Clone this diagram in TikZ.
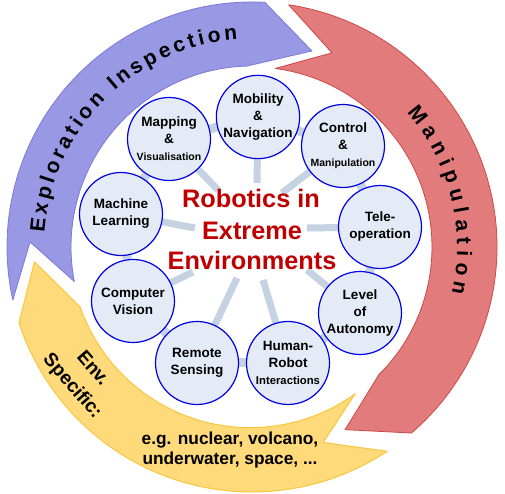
\documentclass[tikz,border=0pt]{standalone}
\usepackage{fontspec}
\setmainfont{Liberation Sans}
\usetikzlibrary{decorations.text,backgrounds,calc}
\definecolor{blueFill}{RGB}{152,152,228}
\definecolor{blueLine}{RGB}{122,122,214}
\definecolor{redFill}{RGB}{226,124,124}
\definecolor{redLine}{RGB}{206,72,72}
\definecolor{yelFill}{RGB}{255,218,122}
\definecolor{yelLine}{RGB}{250,198,64}
\definecolor{circFill}{RGB}{228,235,247}
\definecolor{circLine}{RGB}{0,0,230}
\definecolor{connCol}{RGB}{196,210,226}
\definecolor{titleCol}{RGB}{192,0,0}
\newcommand\arcfont{\bfseries\fontsize{21}{21}\selectfont}
\newcommand\smallt{\fontsize{10.5}{13}\selectfont}
\begin{document}
\begin{tikzpicture}[x=1pt,y=1pt,
  bub/.style={circle,draw=circLine,fill=circFill,line width=1.2pt,minimum size=83pt,inner sep=0pt,align=center,font=\bfseries\fontsize{13.5}{17}\selectfont},
  spoke/.style={draw=connCol,line width=7pt},
  ringc/.style={draw=connCol,line width=9pt},
  titlet/.style={text=titleCol,font=\bfseries\fontsize{25.3}{30}\selectfont,inner sep=0pt,anchor=base},
  envt/.style={font=\bfseries\fontsize{19}{27}\selectfont,inner sep=0pt,align=center},
  egt/.style={font=\bfseries\fontsize{17.3}{20}\selectfont,align=center,inner sep=0pt}]
\useasboundingbox (0,0) rectangle (505,494);

\begin{scope}[shift={(252,247)}]
  % blue arrow
  \filldraw[fill=blueFill,draw=blueLine,line width=0.8pt,line join=round]
    (192.5:245) arc[start angle=192.5,end angle=87,radius=245] -- (73:205) -- (91.6:181)
    arc[start angle=91.6,end angle=191,radius=181] -- (178.7:222) -- cycle;
  % red arrow
  \filldraw[fill=redFill,draw=redLine,line width=0.8pt,line join=round]
    (81.4:245) arc[start angle=81.4,end angle=-49.4,radius=245] -- (-63:205) -- (-45.2:180)
    arc[start angle=-45.2,end angle=82.6,radius=180] -- (67.6:210) -- cycle;
  % yellow arrow
  \filldraw[fill=yelFill,draw=yelLine,line width=1pt,line join=round]
    (-56.5:245) arc[start angle=-56.5,end angle=-162,radius=245] -- (-176.1:218) -- (-160.8:182)
    arc[start angle=-160.8,end angle=-54.2,radius=180] -- (-70:208) -- cycle;
  % arc texts
  \path[decorate,decoration={text along path,text align=fit to path,
    text={|\arcfont|Exploration Inspection}}]
    (176:208) arc[start angle=176,end angle=94,radius=208];
  \path[decorate,decoration={text along path,text align=fit to path,
    text={|\arcfont|Manipulation}}]
    (41:205) arc[start angle=41,end angle=-13,radius=205];
\end{scope}

\node[envt,rotate=-49] (env) at (82,116) {Env.\\Specific:};
\node[egt] (eg) at (230,44) {e.g. nuclear, volcano,\\underwater, space, ...};

% circles
\node[bub] (mob) at (258,377) {Mobility\\\&\\Navigation};
\node[bub] (map) at (169,355) {Mapping\\\&\\{\smallt Visualisation}};
\node[bub] (ctl) at (343,348) {Control\\\&\\{\smallt Manipulation}};
\node[bub] (tel) at (380,267) {Tele-\\operation};
\node[bub] (lev) at (360,181) {Level\\of\\Autonomy};
\node[bub] (hum) at (288,131) {Human-\\Robot\\{\fontsize{11.3}{13}\selectfont Interactions}};
\node[bub] (rem) at (197,131) {Remote\\Sensing};
\node[bub] (com) at (133,193) {Computer\\Vision};
\node[bub] (mac) at (121,280) {Machine\\Learning};

% title
\node[titlet] (t1) at (251,286) {Robotics in};
\node[titlet] (t2) at (252,254) {Extreme};
\node[titlet] (t3) at (252,224) {Environments};

% spoke inner ends
\coordinate (sMob) at (257,311);
\coordinate (sMap) at (218,304);
\coordinate (sCtl) at (282,301);
\coordinate (sTel) at (307,266);
\coordinate (sMac) at (195,266);
\coordinate (sCom) at (193,222);
\coordinate (sRem) at (237,216);
\coordinate (sHum) at (263,214);
\coordinate (sLev) at (307,224);

\begin{scope}[on background layer]
  \draw[ringc] (mob) -- (ctl);
  \draw[ringc] (ctl) -- (tel);
  \draw[ringc] (tel) -- (lev);
  \draw[ringc] (lev) -- (hum);
  \draw[ringc] (hum) -- (rem);
  \draw[ringc] (rem) -- (com);
  \draw[ringc] (com) -- (mac);
  \draw[ringc] (mac) -- (map);
  \draw[ringc] (map) -- (mob);
  \draw[spoke] (sMob) -- (mob);
  \draw[spoke] (sMap) -- (map);
  \draw[spoke] (sCtl) -- (ctl);
  \draw[spoke] (sTel) -- (tel);
  \draw[spoke] (sMac) -- (mac);
  \draw[spoke] (sCom) -- (com);
  \draw[spoke] (sRem) -- (rem);
  \draw[spoke] (sHum) -- (hum);
  \draw[spoke] (sLev) -- (lev);
\end{scope}
\end{tikzpicture}
\end{document}
